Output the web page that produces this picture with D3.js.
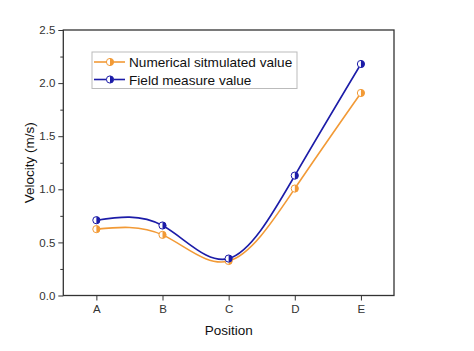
<!DOCTYPE html>
<html lang="en">
<head>
  <meta charset="UTF-8">
  <title>Velocity by Position</title>
  <script src="https://d3js.org/d3.v7.min.js"></script>
  <style>
    body { margin: 0; background: #fff; font-family: "Liberation Sans", Arial, sans-serif; }
    .tick text { font-size: 11.5px; fill: #333; font-family: "Liberation Sans", Arial, sans-serif; }
    .axis-label { font-size: 13.5px; fill: #111; }
    .legend-text { font-size: 13.6px; fill: #111; }
  </style>
</head>
<body>
<script>
  const positions = ["A", "B", "C", "D", "E"];
  const numerical = [0.625, 0.571, 0.325, 1.007, 1.907];
  const field = [0.709, 0.659, 0.348, 1.129, 2.18];
  const yTicks = [0.0, 0.5, 1.0, 1.5, 2.0, 2.5];

  const series = [
    { name: "Numerical sitmulated value", values: numerical, color: "#F29A36" },
    { name: "Field measure value", values: field, color: "#1C1CA8" }
  ];

  const W = 474, H = 351;
  const margin = { top: 30, right: 80, bottom: 55.5, left: 63.3 };
  const width = W - margin.left - margin.right,
        height = H - margin.top - margin.bottom;

  const svg = d3.select("body").append("svg")
      .attr("width", W).attr("height", H);
  const g = svg.append("g")
      .attr("transform", `translate(${margin.left},${margin.top})`);

  const x = d3.scalePoint().domain(positions).range([0, width]).padding(0.5);
  const y = d3.scaleLinear().domain([0, 2.5]).range([height, 0]);

  // minor ticks on y
  g.append("g")
    .call(d3.axisLeft(y).tickValues(d3.range(0.25, 2.5, 0.5)).tickSize(3).tickFormat(""))
    .call(a => a.select(".domain").remove())
    .call(a => a.selectAll("line").attr("stroke", "#333"));

  // axes
  g.append("g")
    .call(d3.axisLeft(y).tickValues(yTicks).tickSize(5).tickPadding(3).tickFormat(d3.format(".1f")))
    .call(a => a.select(".domain").remove())
    .call(a => a.selectAll("line").attr("stroke", "#333"));

  g.append("g")
    .attr("transform", `translate(0,${height})`)
    .call(d3.axisBottom(x).tickSize(5).tickPadding(4))
    .call(a => a.select(".domain").remove())
    .call(a => a.selectAll("line").attr("stroke", "#333"));

  // frame
  g.append("rect")
    .attr("width", width).attr("height", height)
    .attr("fill", "none").attr("stroke", "#333").attr("stroke-width", 1.3);

  // axis titles
  svg.append("text")
    .attr("class", "axis-label")
    .attr("transform", `translate(34,${margin.top + height / 2}) rotate(-90)`)
    .attr("text-anchor", "middle")
    .text("Velocity (m/s)");

  svg.append("text")
    .attr("class", "axis-label")
    .attr("x", margin.left + width / 2).attr("y", 335)
    .attr("text-anchor", "middle")
    .text("Position");

  const line = d3.line()
    .x((d, i) => x(positions[i]))
    .y(d => y(d))
    .curve(d3.curveNatural);

  function halfMarker(sel, cx, cy, color) {
    const r = 3.6;
    sel.append("circle").attr("cx", cx).attr("cy", cy).attr("r", r)
      .attr("fill", "#fff").attr("stroke", color).attr("stroke-width", 1);
    sel.append("path")
      .attr("d", `M${cx},${cy - r} A${r},${r} 0 0 1 ${cx},${cy + r} Z`)
      .attr("fill", color);
  }

  series.forEach(s => {
    g.append("path")
      .datum(s.values)
      .attr("fill", "none")
      .attr("stroke", s.color)
      .attr("stroke-width", 1.6)
      .attr("d", line);
    const mk = g.append("g");
    s.values.forEach((v, i) => halfMarker(mk, x(positions[i]), y(v), s.color));
  });

  // legend
  const lg = svg.append("g").attr("transform", "translate(92,52)");
  lg.append("rect").attr("width", 205).attr("height", 36.5)
    .attr("fill", "#fff").attr("stroke", "#bbb").attr("stroke-width", 1);
  series.forEach((s, i) => {
    const yy = 10 + i * 17.5;
    lg.append("line").attr("x1", 2).attr("x2", 33).attr("y1", yy).attr("y2", yy)
      .attr("stroke", s.color).attr("stroke-width", 1.6);
    halfMarker(lg, 18, yy, s.color);
    lg.append("text").attr("class", "legend-text")
      .attr("x", 37).attr("y", yy + 5)
      .text(s.name);
  });
</script>
</body>
</html>
